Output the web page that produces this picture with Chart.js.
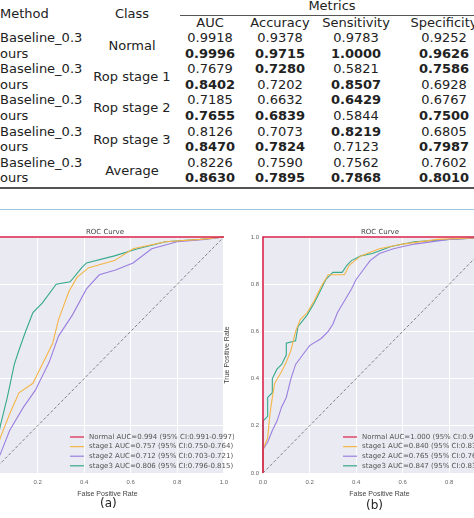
<!DOCTYPE html>
<html>
<head>
<meta charset="utf-8">
<script src="https://cdn.jsdelivr.net/npm/chart.js@4"></script>
<style>
  body { margin:0; width:474px; height:518px; overflow:hidden; background:#fff; position:relative;
         font-family:"DejaVu Sans", sans-serif; color:#222; }
  .t { position:absolute; font-size:13px; white-space:nowrap; line-height:15px; }
  .c { transform:translateX(-50%); }
  .b { font-weight:bold; }
  .rule { position:absolute; background:#555; }
  canvas { position:absolute; }
</style>
</head>
<body>
<div id="tbl"></div>
<canvas id="rocA"></canvas>
<canvas id="rocB"></canvas>
<div class="t" style="left:100px;top:496px;font-size:12px">(a)</div>
<div class="t" style="left:366px;top:498px;font-size:12px">(b)</div>
<script>
// table data
const metricNames = ["AUC", "Accuracy", "Sensitivity", "Specificity"];
const classNames = ["Normal", "Rop stage 1", "Rop stage 2", "Rop stage 3", "Average"];
const baselineVals = [
  ["0.9918", "0.9378", "0.9783", "0.9252"],
  ["0.7679", "0.7280", "0.5821", "0.7586"],
  ["0.7185", "0.6632", "0.6429", "0.6767"],
  ["0.8126", "0.7073", "0.8219", "0.6805"],
  ["0.8226", "0.7590", "0.7562", "0.7602"]
];
const oursVals = [
  ["0.9996", "0.9715", "1.0000", "0.9626"],
  ["0.8402", "0.7202", "0.8507", "0.6928"],
  ["0.7655", "0.6839", "0.5844", "0.7500"],
  ["0.8470", "0.7824", "0.7123", "0.7987"],
  ["0.8630", "0.7895", "0.7868", "0.8010"]
];

// ROC points [fpr, tpr]
const aNormal = [[0,0],[0,0.97],[0.01,1],[1,1]];
const aStage1 = [[0,0],[0.02,0.08],[0.04,0.15],[0.08,0.25],[0.12,0.34],[0.18,0.38],[0.22,0.46],[0.265,0.55],[0.29,0.65],[0.335,0.77],[0.37,0.83],[0.42,0.87],[0.53,0.9],[0.61,0.95],[0.75,0.98],[0.9,0.99],[1,1]];
const aStage2 = [[0,0],[0.04,0.08],[0.08,0.18],[0.14,0.28],[0.19,0.35],[0.25,0.47],[0.29,0.58],[0.35,0.67],[0.41,0.78],[0.465,0.84],[0.535,0.86],[0.61,0.89],[0.69,0.95],[0.8,0.98],[0.92,0.99],[1,1]];
const aStage3 = [[0,0],[0,0.05],[0.02,0.1],[0.04,0.2],[0.07,0.32],[0.1,0.46],[0.12,0.52],[0.145,0.59],[0.18,0.68],[0.22,0.72],[0.28,0.8],[0.34,0.81],[0.39,0.87],[0.41,0.89],[0.53,0.92],[0.63,0.95],[0.75,0.98],[0.9,0.99],[1,1]];
const aLabels = ["Normal AUC=0.994 (95% CI:0.991-0.997)", "stage1 AUC=0.757 (95% CI:0.750-0.764)",
                 "stage2 AUC=0.712 (95% CI:0.703-0.721)", "stage3 AUC=0.806 (95% CI:0.796-0.815)"];

const bNormal = [[0,0],[0,1],[1,1]];
const bStage1 = [[0,0],[0,0.1],[0.02,0.15],[0.03,0.25],[0.04,0.32],[0.05,0.38],[0.08,0.43],[0.1,0.47],[0.12,0.52],[0.14,0.6],[0.16,0.65],[0.19,0.68],[0.22,0.73],[0.25,0.79],[0.28,0.84],[0.35,0.84],[0.37,0.88],[0.42,0.92],[0.5,0.95],[0.6,0.97],[0.75,0.99],[1,1]];
const bStage2 = [[0,0],[0,0.1],[0.02,0.13],[0.04,0.18],[0.06,0.22],[0.08,0.28],[0.1,0.32],[0.12,0.4],[0.14,0.46],[0.17,0.5],[0.2,0.54],[0.25,0.57],[0.28,0.6],[0.3,0.63],[0.32,0.68],[0.35,0.73],[0.38,0.78],[0.4,0.82],[0.43,0.86],[0.46,0.9],[0.5,0.93],[0.56,0.95],[0.65,0.97],[0.8,0.99],[1,1]];
const bStage3 = [[0,0],[0,0.22],[0.02,0.24],[0.02,0.32],[0.04,0.34],[0.04,0.4],[0.06,0.44],[0.08,0.46],[0.1,0.5],[0.1,0.55],[0.14,0.56],[0.15,0.62],[0.19,0.67],[0.22,0.72],[0.25,0.78],[0.27,0.82],[0.3,0.85],[0.34,0.85],[0.36,0.88],[0.38,0.9],[0.42,0.92],[0.47,0.93],[0.55,0.96],[0.65,0.98],[0.8,0.99],[1,1]];
const bLabels = ["Normal AUC=1.000 (95% CI:0.999-1.000)", "stage1 AUC=0.840 (95% CI:0.834-0.846)",
                 "stage2 AUC=0.765 (95% CI:0.760-0.770)", "stage3 AUC=0.847 (95% CI:0.839-0.855)"];
const diagonal = [[0,0],[1,1]];
const xTicks = [0, 0.2, 0.4, 0.6, 0.8, 1.0];
const yTicks = [0, 0.2, 0.4, 0.6, 0.8, 1.0];

const colors = ["#d8204a", "#f5b547", "#9b7fe0", "#35a98a"];

// build the table
let tbl = document.getElementById("tbl");
function cell(text, x, y, cls) {
  let d = document.createElement("div");
  d.className = "t " + (cls || "");
  d.textContent = text;
  d.style.left = x + "px";
  d.style.top = y + "px";
  tbl.appendChild(d);
}
const colX = [210, 280, 356, 444];
cell("Method", 0, 6);
cell("Class", 132, 6, "c");
cell("Metrics", 332, -2, "c");
metricNames.forEach((m, i) => cell(m, colX[i], 15, "c"));
classNames.forEach((c, r) => {
  let y0 = 30 + r * 31.2;
  cell("Baseline_0.3", 0, y0);
  cell("ours", 0, y0 + 15.6);
  cell(c, 132, y0 + 8, "c");
  // the better of the two values is bold
  baselineVals[r].forEach((v, i) => {
    let better = parseFloat(v) > parseFloat(oursVals[r][i]);
    cell(v, colX[i], y0, "c" + (better ? " b" : ""));
  });
  oursVals[r].forEach((v, i) => {
    let better = parseFloat(v) >= parseFloat(baselineVals[r][i]);
    cell(v, colX[i], y0 + 15.6, "c" + (better ? " b" : ""));
  });
});
function rule(x, y, w, h, col) {
  let d = document.createElement("div");
  d.className = "rule";
  Object.assign(d.style, { left: x + "px", top: y + "px", width: w + "px", height: h + "px" });
  if (col) d.style.background = col;
  tbl.appendChild(d);
}
rule(180, 15, 294, 1);
rule(0, 187, 474, 1.5);
rule(0, 209, 474, 1, "#9fc4de");

// plugin: plot background, title and legend inside the plot
const rocDecor = {
  id: "rocDecor",
  beforeDraw(chart) {
    const { ctx, chartArea: a } = chart;
    ctx.save();
    ctx.fillStyle = "#eaeaf2";
    ctx.fillRect(a.left, a.top, a.right - a.left, a.bottom - a.top);
    ctx.restore();
  },
  afterDraw(chart, args, opts) {
    const { ctx, chartArea: a } = chart;
    ctx.save();
    ctx.font = "7px 'DejaVu Sans'";
    ctx.fillStyle = "#444";
    ctx.textAlign = "center";
    ctx.fillText("ROC Curve", opts.titleX, a.top - 3);
    ctx.textAlign = "left";
    ctx.textBaseline = "middle";
    const lx = opts.legendX, ly = opts.legendY;
    chart.data.datasets.slice(0, 4).forEach((ds, i) => {
      let y = ly + i * 9.6;
      ctx.strokeStyle = ds.borderColor;
      ctx.lineWidth = 1.2;
      ctx.beginPath(); ctx.moveTo(lx, y); ctx.lineTo(lx + 14, y); ctx.stroke();
      ctx.fillStyle = "#555";
      ctx.fillText(ds.label, lx + 19, y);
    });
    ctx.restore();
  }
};

function makeRoc(id, left, series, labels, titleX, legendX, showY) {
  const el = document.getElementById(id);
  el.style.left = left + "px";
  el.style.top = "222px";
  el.width = 283; el.height = 276;
  el.style.width = "283px"; el.style.height = "276px";
  const datasets = series.map((s, i) => ({
    label: labels[i],
    data: s.map(p => ({ x: p[0], y: p[1] })),
    borderColor: colors[i],
    borderWidth: i === 0 ? 1.6 : 1.1,
    pointRadius: 0,
    clip: 3,
    order: i
  }));
  datasets.push({
    label: "chance",
    data: diagonal.map(p => ({ x: p[0], y: p[1] })),
    borderColor: "#666",
    borderWidth: 0.8,
    borderDash: [3, 2],
    pointRadius: 0,
    order: 10
  });
  new Chart(el, {
    type: "line",
    data: { datasets },
    options: {
      responsive: false,
      animation: false,
      layout: { padding: { top: 15, right: 8, left: 0, bottom: 0 } },
      plugins: {
        legend: { display: false },
        tooltip: { enabled: false },
        rocDecor: { titleX: titleX, legendX: legendX, legendY: 215 }
      },
      scales: {
        x: {
          type: "linear", min: 0, max: 1,
          afterBuildTicks: ax => { ax.ticks = xTicks.map(v => ({ value: v })); },
          afterFit: ax => { ax.height = 25; },
          grid: { color: "#ffffff", drawTicks: false },
          border: { display: false },
          ticks: { font: { size: 6 }, color: "#666", padding: 6, callback: v => v.toFixed(1) },
          title: { display: true, text: "False Positive Rate", font: { size: 7 }, color: "#444", padding: 0 }
        },
        y: {
          type: "linear", min: 0, max: 1,
          afterBuildTicks: ax => { ax.ticks = yTicks.map(v => ({ value: v })); },
          afterFit: ax => { ax.width = 40; },
          grid: { color: "#ffffff", drawTicks: false },
          border: { display: false },
          ticks: { display: showY, font: { size: 6 }, color: "#666", padding: 4, callback: v => v.toFixed(1) },
          title: { display: showY, text: "True Positive Rate", font: { size: 7 }, color: "#444", padding: 0 }
        }
      }
    },
    plugins: [rocDecor]
  });
}

makeRoc("rocA", -49, [aNormal, aStage1, aStage2, aStage3], aLabels, 154, 119, true);
makeRoc("rocB", 223, [bNormal, bStage1, bStage2, bStage3], bLabels, 157, 120, true);
</script>
</body>
</html>
